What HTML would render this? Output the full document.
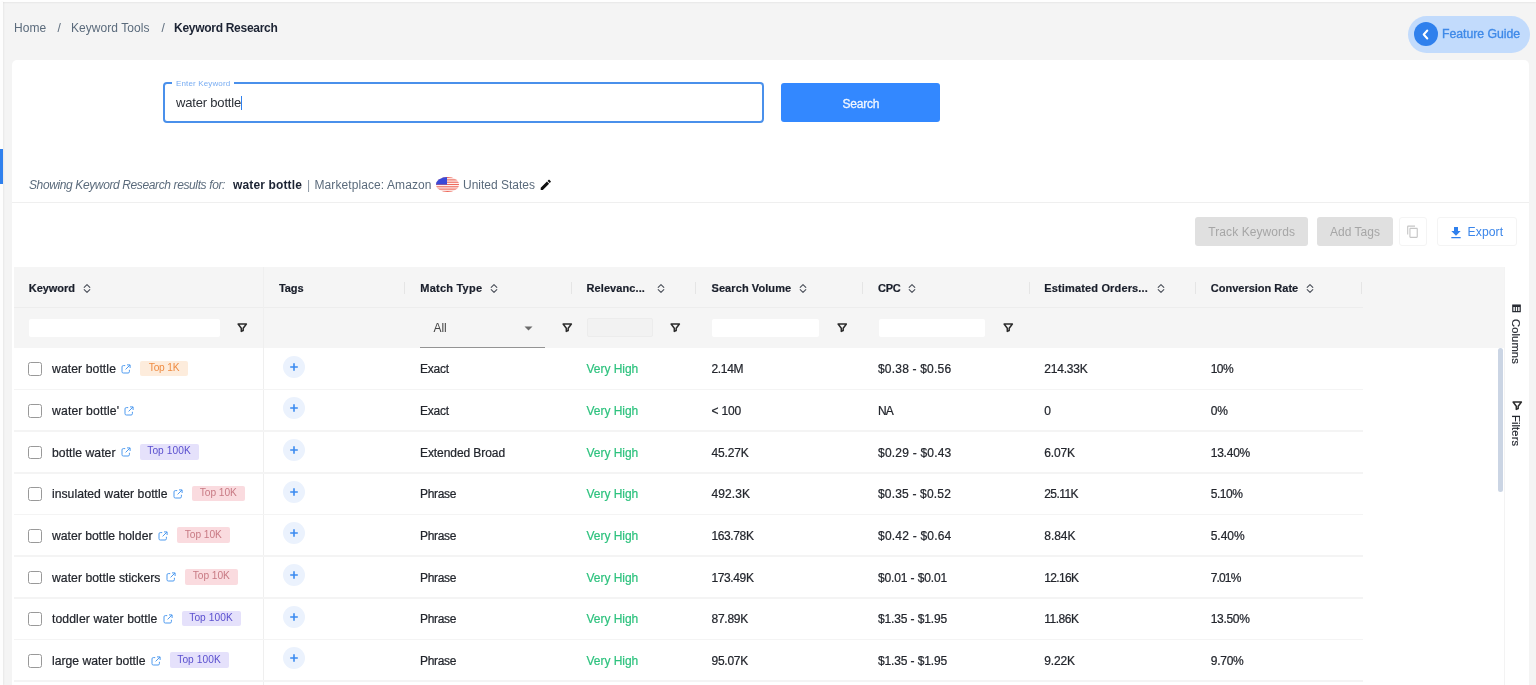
<!DOCTYPE html>
<html lang="en">
<head>
<meta charset="utf-8">
<title>Keyword Research</title>
<style>
*{box-sizing:border-box;margin:0;padding:0}
html,body{width:1536px;height:685px;overflow:hidden}
body{background:#f4f4f4;font-family:"Liberation Sans",sans-serif;color:#222;position:relative}
.abs{position:absolute}
.tx{white-space:nowrap}
#topline{left:0;top:0;width:1536px;height:2px;background:#fefefe;box-shadow:0 1px 2px rgba(0,0,0,0.06)}
#leftstrip{left:0;top:2px;width:3px;height:683px;background:#fdfdfd;box-shadow:1px 0 2px rgba(0,0,0,0.05)}
#bluebar{left:0;top:149px;width:3px;height:35px;background:#2f80ed}
#guide{left:1408px;top:16px;width:122px;height:37px;border-radius:19px;background:#c2dbfc}
#guide .c{left:6px;top:6px;width:24px;height:24px;border-radius:50%;background:#2f80ed}
#card{left:12px;top:60px;width:1517.300px;height:640px;background:#fff;border-radius:5px 5px 0 0}
#inp{left:162.7px;top:82px;width:601.3px;height:40.5px;border:2px solid #4a90eb;border-radius:4px;background:#fff}
#inplabelbg{left:172px;top:81px;height:4px;width:61.6px;background:#fff}
#caret{left:241.3px;top:95.5px;width:1px;height:14px;background:#2f80ed}
#search{left:781px;top:82.6px;width:159.3px;height:39.5px;border-radius:3px;background:#3388ff}
#hr1{left:12px;top:202px;width:1517.300px;height:1px;background:#efefef}
.btn{top:216.500px;height:29px;border-radius:3px}
.dis{background:#e0e0e0}
.out{background:#fff;border:1px solid #f4f4f4}
#thead{left:14px;top:267px;width:1489.600px;height:80.500px;background:#f5f5f5}
#hline{left:14px;top:307px;width:1349px;height:1px;background:#ededed}
#kwborder{left:262.500px;top:267px;width:1px;height:420px;background:#efefef}
.sep{top:282px;width:1px;height:12px;background:#e5e5e5}
.fin{top:319px;height:18px;background:#fff;border-radius:2px}
.findis{top:318px;height:19px;background:#f2f2f2;border:1px solid #ececec;border-radius:2px}
.cb{width:13.8px;height:13.8px;border:1.5px solid #999;border-radius:2.5px;background:#fff}
.tag{height:15.6px;border-radius:2px}
.plus{width:22px;height:22px;border-radius:50%;background:#ebf2fd}
#side{left:1503.600px;top:267px;width:25.700px;height:420px;background:#fff;border-left:1px solid #f3f3f3}
#sbar{left:1497.900px;top:348px;width:5px;height:144px;border-radius:3px;background:#cbd5e4}
.rot{will-change:transform;transform-origin:0 0;transform:rotate(90deg);white-space:nowrap;font-size:11.200px;letter-spacing:0.1px;line-height:14px;color:#1f232b;-webkit-text-stroke:0.2px #1f232b}
#selul{left:420px;top:347px;width:125px;height:1px;background:#949494}
</style>
</head>
<body>
<div class="abs" id="topline"></div>
<div class="abs" id="leftstrip"></div>
<div class="abs" id="bluebar"></div>

<div class="abs" id="guide">
  <div class="abs c"><svg width="24" height="24" viewBox="0 0 24 24"><path d="M13.3 8.500 L9.700 12.500 L13.3 16.500" fill="none" stroke="#fff" stroke-width="2" stroke-linecap="round" stroke-linejoin="round"/></svg></div>
</div>

<div class="abs" id="card"></div>
<div class="abs" id="inp"></div>
<div class="abs" id="inplabelbg"></div>
<div class="abs" id="caret"></div>
<div class="abs" id="search"></div>

<!-- flag -->
<svg class="abs" style="left:436px;top:177px" width="23" height="15" viewBox="0 0 23 15">
  <defs><clipPath id="fc"><ellipse cx="11.5" cy="7.5" rx="11.5" ry="7.5"/></clipPath></defs>
  <g clip-path="url(#fc)">
    <rect width="23" height="15" fill="#fff"/>
    <g fill="#ee6a5c">
      <rect y="0" width="23" height="1.2"/><rect y="2.3" width="23" height="1.2"/><rect y="4.6" width="23" height="1.2"/>
      <rect y="6.9" width="23" height="1.2"/><rect y="9.2" width="23" height="1.2"/><rect y="11.5" width="23" height="1.2"/><rect y="13.8" width="23" height="1.2"/>
    </g>
    <rect width="11" height="7.6" fill="#3a49d8"/>
  </g>
</svg>
<!-- pencil -->
<svg class="abs" style="left:539.400px;top:178px" width="13.600" height="13.600" viewBox="0 0 24 24"><path d="M3 17.25V21h3.75L17.81 9.94l-3.75-3.75L3 17.25zM20.71 7.04a1 1 0 0 0 0-1.41l-2.34-2.34a1 1 0 0 0-1.41 0l-1.83 1.83 3.75 3.75 1.83-1.83z" fill="#111"/></svg>

<div class="abs" id="hr1"></div>

<div class="abs btn dis" style="left:1195px;width:113px"></div>
<div class="abs btn dis" style="left:1317px;width:76px"></div>
<div class="abs btn out" style="left:1399.200px;width:27.600px"></div>
<div class="abs btn out" style="left:1437px;width:80px"></div>
<!-- copy icon -->
<svg class="abs" style="left:1406px;top:224.500px" width="13.500" height="13.500" viewBox="0 0 24 24"><path d="M16 1H4c-1.1 0-2 .9-2 2v14h2V3h12V1zm3 4H8c-1.1 0-2 .9-2 2v14c0 1.1.9 2 2 2h11c1.100 0 2-.9 2-2V7c0-1.100-.9-2-2-2zm0 16H8V7h11v14z" fill="#c6c6c6"/></svg>
<!-- download icon -->
<svg class="abs" style="left:1448px;top:224.800px" width="16" height="16" viewBox="0 0 24 24"><path d="M19 9h-4V3H9v6H5l7 7 7-7zM5 18v2h14v-2H5z" fill="#2f80ed"/></svg>

<!-- table -->
<div class="abs" id="thead"></div>
<div class="abs" id="hline"></div>
<div class="abs" id="side"></div>
<div class="abs" id="kwborder"></div>
<div class="abs sep" style="left:404px"></div>
<div class="abs sep" style="left:571px"></div>
<div class="abs sep" style="left:695px"></div>
<div class="abs sep" style="left:862px"></div>
<div class="abs sep" style="left:1029px"></div>
<div class="abs sep" style="left:1195px"></div>
<div class="abs sep" style="left:1361px"></div>

<div class="abs fin" style="left:29px;width:191px"></div>
<div class="abs findis" style="left:587px;width:66px"></div>
<div class="abs fin" style="left:711.5px;width:107px"></div>
<div class="abs fin" style="left:878.5px;width:106.5px"></div>
<div class="abs" id="selul"></div>
<svg class="abs" style="left:523.5px;top:325.5px" width="9" height="5" viewBox="0 0 9 5"><path d="M0.5 0.5h8L4.500 4.500z" fill="#6a6a6a"/></svg>

<svg class="abs" style="left:83.00px;top:282.800px" width="8" height="11" viewBox="0 0 8 11"><path d="M1.2 4.400L4 1.600l2.800 2.800M1.2 6.600L4 9.400l2.800-2.800" fill="none" stroke="#4a4f59" stroke-width="1.1" stroke-linejoin="round" stroke-linecap="round"/></svg><svg class="abs" style="left:490.25px;top:282.800px" width="8" height="11" viewBox="0 0 8 11"><path d="M1.2 4.400L4 1.600l2.800 2.800M1.2 6.600L4 9.400l2.800-2.800" fill="none" stroke="#4a4f59" stroke-width="1.1" stroke-linejoin="round" stroke-linecap="round"/></svg><svg class="abs" style="left:656.75px;top:282.800px" width="8" height="11" viewBox="0 0 8 11"><path d="M1.2 4.400L4 1.600l2.800 2.800M1.2 6.600L4 9.400l2.800-2.800" fill="none" stroke="#4a4f59" stroke-width="1.1" stroke-linejoin="round" stroke-linecap="round"/></svg><svg class="abs" style="left:799.00px;top:282.800px" width="8" height="11" viewBox="0 0 8 11"><path d="M1.2 4.400L4 1.600l2.800 2.800M1.2 6.600L4 9.400l2.800-2.800" fill="none" stroke="#4a4f59" stroke-width="1.1" stroke-linejoin="round" stroke-linecap="round"/></svg><svg class="abs" style="left:908.40px;top:282.800px" width="8" height="11" viewBox="0 0 8 11"><path d="M1.2 4.400L4 1.600l2.800 2.800M1.2 6.600L4 9.400l2.800-2.800" fill="none" stroke="#4a4f59" stroke-width="1.1" stroke-linejoin="round" stroke-linecap="round"/></svg><svg class="abs" style="left:1157.00px;top:282.800px" width="8" height="11" viewBox="0 0 8 11"><path d="M1.2 4.400L4 1.600l2.800 2.800M1.2 6.600L4 9.400l2.800-2.800" fill="none" stroke="#4a4f59" stroke-width="1.1" stroke-linejoin="round" stroke-linecap="round"/></svg><svg class="abs" style="left:1306.00px;top:282.800px" width="8" height="11" viewBox="0 0 8 11"><path d="M1.2 4.400L4 1.600l2.800 2.800M1.2 6.600L4 9.400l2.800-2.800" fill="none" stroke="#4a4f59" stroke-width="1.1" stroke-linejoin="round" stroke-linecap="round"/></svg>
<svg class="abs" style="left:237px;top:323px" width="10.5" height="10" viewBox="0 0 10.5 10"><path d="M1.100 1h8.300L6.200 5.200v2.300L4.300 8.400V5.200z" fill="none" stroke="#2b2b2b" stroke-width="1.5" stroke-linejoin="round"/></svg><svg class="abs" style="left:562px;top:323px" width="10.5" height="10" viewBox="0 0 10.5 10"><path d="M1.100 1h8.300L6.200 5.200v2.300L4.300 8.400V5.200z" fill="none" stroke="#2b2b2b" stroke-width="1.5" stroke-linejoin="round"/></svg><svg class="abs" style="left:670px;top:323px" width="10.5" height="10" viewBox="0 0 10.5 10"><path d="M1.100 1h8.300L6.200 5.200v2.300L4.300 8.400V5.200z" fill="none" stroke="#2b2b2b" stroke-width="1.5" stroke-linejoin="round"/></svg><svg class="abs" style="left:836.75px;top:323px" width="10.5" height="10" viewBox="0 0 10.5 10"><path d="M1.100 1h8.300L6.200 5.200v2.300L4.300 8.400V5.200z" fill="none" stroke="#2b2b2b" stroke-width="1.5" stroke-linejoin="round"/></svg><svg class="abs" style="left:1003px;top:323px" width="10.5" height="10" viewBox="0 0 10.5 10"><path d="M1.100 1h8.300L6.200 5.200v2.300L4.300 8.400V5.200z" fill="none" stroke="#2b2b2b" stroke-width="1.5" stroke-linejoin="round"/></svg>

<div class="abs" id="sbar"></div>
<!-- side panel -->
<svg class="abs" style="left:1512.400px;top:304.400px" width="9" height="9" viewBox="0 0 10 10"><rect x="0.9" y="1.200" width="8.200" height="7.300" fill="none" stroke="#1f232b" stroke-width="1.3"/><path d="M0.9 2.300h8.200" stroke="#1f232b" stroke-width="2" fill="none"/><path d="M3.700 3v5.500M6.300 3v5.500" stroke="#1f232b" stroke-width="1.1" fill="none"/></svg>
<div class="abs rot" style="left:1523.300px;top:319px">Columns</div>
<svg class="abs" style="left:1512px;top:400.600px" width="10.5" height="10" viewBox="0 0 10.5 10"><path d="M1.100 1h8.300L6.200 5.200v2.300L4.300 8.400V5.200z" fill="none" stroke="#2b2b2b" stroke-width="1.5" stroke-linejoin="round"/></svg>
<div class="abs rot" style="left:1523.300px;top:414.500px">Filters</div>

<div class="abs cb" style="left:28px;top:362.20px"></div>
<svg class="abs" style="left:121.00px;top:364.00px" width="10" height="10" viewBox="0 0 10 10"><path d="M4.2 1.6H2.3A1.3 1.3 0 0 0 1 2.9v4.8A1.3 1.3 0 0 0 2.3 9h4.8a1.3 1.3 0 0 0 1.3-1.3V5.8" fill="none" stroke="#4f9bf0" stroke-width="1"/><path d="M6 0.9h3.1V4M9 1L4.6 5.4" fill="none" stroke="#4f9bf0" stroke-width="1"/></svg>
<div class="abs tag" style="left:140.00px;top:360.70px;width:48px;background:#fdecdc"></div>
<div class="abs plus" style="left:282.75px;top:355.80px"><svg width="22" height="22" viewBox="0 0 22 22"><path d="M11 7.2v7.6M7.2 11h7.6" stroke="#3b8af0" stroke-width="1.6" fill="none"/></svg></div>
<div class="abs" style="left:14px;top:388.71px;width:1349px;height:1.5px;background:#f4f4f4"></div>
<div class="abs cb" style="left:28px;top:403.86px"></div>
<svg class="abs" style="left:124.30px;top:405.66px" width="10" height="10" viewBox="0 0 10 10"><path d="M4.2 1.6H2.3A1.3 1.3 0 0 0 1 2.9v4.8A1.3 1.3 0 0 0 2.3 9h4.8a1.3 1.3 0 0 0 1.3-1.3V5.8" fill="none" stroke="#4f9bf0" stroke-width="1"/><path d="M6 0.9h3.1V4M9 1L4.6 5.4" fill="none" stroke="#4f9bf0" stroke-width="1"/></svg>
<div class="abs plus" style="left:282.75px;top:397.46px"><svg width="22" height="22" viewBox="0 0 22 22"><path d="M11 7.2v7.6M7.2 11h7.6" stroke="#3b8af0" stroke-width="1.6" fill="none"/></svg></div>
<div class="abs" style="left:14px;top:430.37px;width:1349px;height:1.5px;background:#f4f4f4"></div>
<div class="abs cb" style="left:28px;top:445.52px"></div>
<svg class="abs" style="left:120.50px;top:447.32px" width="10" height="10" viewBox="0 0 10 10"><path d="M4.2 1.6H2.3A1.3 1.3 0 0 0 1 2.9v4.8A1.3 1.3 0 0 0 2.3 9h4.8a1.3 1.3 0 0 0 1.3-1.3V5.8" fill="none" stroke="#4f9bf0" stroke-width="1"/><path d="M6 0.9h3.1V4M9 1L4.6 5.4" fill="none" stroke="#4f9bf0" stroke-width="1"/></svg>
<div class="abs tag" style="left:139.50px;top:444.02px;width:59px;background:#e5e1fb"></div>
<div class="abs plus" style="left:282.75px;top:439.12px"><svg width="22" height="22" viewBox="0 0 22 22"><path d="M11 7.2v7.6M7.2 11h7.6" stroke="#3b8af0" stroke-width="1.6" fill="none"/></svg></div>
<div class="abs" style="left:14px;top:472.03px;width:1349px;height:1.5px;background:#f4f4f4"></div>
<div class="abs cb" style="left:28px;top:487.18px"></div>
<svg class="abs" style="left:172.50px;top:488.98px" width="10" height="10" viewBox="0 0 10 10"><path d="M4.2 1.6H2.3A1.3 1.3 0 0 0 1 2.9v4.8A1.3 1.3 0 0 0 2.3 9h4.8a1.3 1.3 0 0 0 1.3-1.3V5.8" fill="none" stroke="#4f9bf0" stroke-width="1"/><path d="M6 0.9h3.1V4M9 1L4.6 5.4" fill="none" stroke="#4f9bf0" stroke-width="1"/></svg>
<div class="abs tag" style="left:191.50px;top:485.68px;width:53.5px;background:#fadbdf"></div>
<div class="abs plus" style="left:282.75px;top:480.78px"><svg width="22" height="22" viewBox="0 0 22 22"><path d="M11 7.2v7.6M7.2 11h7.6" stroke="#3b8af0" stroke-width="1.6" fill="none"/></svg></div>
<div class="abs" style="left:14px;top:513.69px;width:1349px;height:1.5px;background:#f4f4f4"></div>
<div class="abs cb" style="left:28px;top:528.84px"></div>
<svg class="abs" style="left:157.50px;top:530.64px" width="10" height="10" viewBox="0 0 10 10"><path d="M4.2 1.6H2.3A1.3 1.3 0 0 0 1 2.9v4.8A1.3 1.3 0 0 0 2.3 9h4.8a1.3 1.3 0 0 0 1.3-1.3V5.8" fill="none" stroke="#4f9bf0" stroke-width="1"/><path d="M6 0.9h3.1V4M9 1L4.6 5.4" fill="none" stroke="#4f9bf0" stroke-width="1"/></svg>
<div class="abs tag" style="left:176.50px;top:527.34px;width:53.5px;background:#fadbdf"></div>
<div class="abs plus" style="left:282.75px;top:522.44px"><svg width="22" height="22" viewBox="0 0 22 22"><path d="M11 7.2v7.6M7.2 11h7.6" stroke="#3b8af0" stroke-width="1.6" fill="none"/></svg></div>
<div class="abs" style="left:14px;top:555.35px;width:1349px;height:1.5px;background:#f4f4f4"></div>
<div class="abs cb" style="left:28px;top:570.50px"></div>
<svg class="abs" style="left:165.50px;top:572.30px" width="10" height="10" viewBox="0 0 10 10"><path d="M4.2 1.6H2.3A1.3 1.3 0 0 0 1 2.9v4.8A1.3 1.3 0 0 0 2.3 9h4.8a1.3 1.3 0 0 0 1.3-1.3V5.8" fill="none" stroke="#4f9bf0" stroke-width="1"/><path d="M6 0.9h3.1V4M9 1L4.6 5.4" fill="none" stroke="#4f9bf0" stroke-width="1"/></svg>
<div class="abs tag" style="left:184.50px;top:569.00px;width:53.5px;background:#fadbdf"></div>
<div class="abs plus" style="left:282.75px;top:564.10px"><svg width="22" height="22" viewBox="0 0 22 22"><path d="M11 7.2v7.6M7.2 11h7.6" stroke="#3b8af0" stroke-width="1.6" fill="none"/></svg></div>
<div class="abs" style="left:14px;top:597.01px;width:1349px;height:1.5px;background:#f4f4f4"></div>
<div class="abs cb" style="left:28px;top:612.16px"></div>
<svg class="abs" style="left:162.50px;top:613.96px" width="10" height="10" viewBox="0 0 10 10"><path d="M4.2 1.6H2.3A1.3 1.3 0 0 0 1 2.9v4.8A1.3 1.3 0 0 0 2.3 9h4.8a1.3 1.3 0 0 0 1.3-1.3V5.8" fill="none" stroke="#4f9bf0" stroke-width="1"/><path d="M6 0.9h3.1V4M9 1L4.6 5.4" fill="none" stroke="#4f9bf0" stroke-width="1"/></svg>
<div class="abs tag" style="left:181.50px;top:610.66px;width:59px;background:#e5e1fb"></div>
<div class="abs plus" style="left:282.75px;top:605.76px"><svg width="22" height="22" viewBox="0 0 22 22"><path d="M11 7.2v7.6M7.2 11h7.6" stroke="#3b8af0" stroke-width="1.6" fill="none"/></svg></div>
<div class="abs" style="left:14px;top:638.67px;width:1349px;height:1.5px;background:#f4f4f4"></div>
<div class="abs cb" style="left:28px;top:653.82px"></div>
<svg class="abs" style="left:150.50px;top:655.62px" width="10" height="10" viewBox="0 0 10 10"><path d="M4.2 1.6H2.3A1.3 1.3 0 0 0 1 2.9v4.8A1.3 1.3 0 0 0 2.3 9h4.8a1.3 1.3 0 0 0 1.3-1.3V5.8" fill="none" stroke="#4f9bf0" stroke-width="1"/><path d="M6 0.9h3.1V4M9 1L4.6 5.4" fill="none" stroke="#4f9bf0" stroke-width="1"/></svg>
<div class="abs tag" style="left:169.50px;top:652.32px;width:59px;background:#e5e1fb"></div>
<div class="abs plus" style="left:282.75px;top:647.42px"><svg width="22" height="22" viewBox="0 0 22 22"><path d="M11 7.2v7.6M7.2 11h7.6" stroke="#3b8af0" stroke-width="1.6" fill="none"/></svg></div>
<div class="abs" style="left:14px;top:680.33px;width:1349px;height:1.5px;background:#f4f4f4"></div>
<div class="abs" style="left:0;top:0;width:1536px;height:685px;will-change:transform">
<div class="abs tx" style="left:14.00px;top:21.26px;line-height:15px;font-size:12px;font-weight:400;font-style:normal;color:#5b6b7c;letter-spacing:0.059px;">Home</div>
<div class="abs tx" style="left:57.50px;top:21.26px;line-height:15px;font-size:12px;font-weight:400;font-style:normal;color:#5b6b7c;letter-spacing:0.156px;">/</div>
<div class="abs tx" style="left:71.00px;top:21.26px;line-height:15px;font-size:12px;font-weight:400;font-style:normal;color:#5b6b7c;letter-spacing:0.052px;">Keyword Tools</div>
<div class="abs tx" style="left:161.50px;top:21.26px;line-height:15px;font-size:12px;font-weight:400;font-style:normal;color:#5b6b7c;letter-spacing:0.156px;">/</div>
<div class="abs tx" style="left:174.00px;top:21.26px;line-height:15px;font-size:12px;font-weight:700;font-style:normal;color:#1c2333;letter-spacing:-0.284px;">Keyword Research</div>
<div class="abs tx" style="left:1442.00px;top:27.23px;line-height:15px;font-size:12.3px;font-weight:400;font-style:normal;color:#3f8ae8;letter-spacing:-0.047px;-webkit-text-stroke:0.35px #3f8ae8;">Feature Guide</div>
<div class="abs tx" style="left:176.00px;top:78.80px;line-height:10px;font-size:8px;font-weight:400;font-style:normal;color:#78acf2;letter-spacing:0.141px;">Enter Keyword</div>
<div class="abs tx" style="left:176.00px;top:94.77px;line-height:16px;font-size:13px;font-weight:400;font-style:normal;color:#2b2f36;letter-spacing:-0.184px;">water bottle</div>
<div class="abs tx" style="left:842.40px;top:96.76px;line-height:15px;font-size:12px;font-weight:400;font-style:normal;color:#f2f7ff;letter-spacing:-0.205px;-webkit-text-stroke:0.3px #f2f7ff;">Search</div>
<div class="abs tx" style="left:29.00px;top:178.36px;line-height:15px;font-size:12px;font-weight:400;font-style:italic;color:#5b6b7c;letter-spacing:-0.381px;">Showing Keyword Research results for:</div>
<div class="abs tx" style="left:233.00px;top:178.36px;line-height:15px;font-size:12px;font-weight:700;font-style:normal;color:#1c2333;letter-spacing:0.138px;">water bottle</div>
<div class="abs tx" style="left:307.00px;top:177.86px;line-height:15px;font-size:12px;font-weight:400;font-style:normal;color:#8a96a3;letter-spacing:-1.125px;">|</div>
<div class="abs tx" style="left:314.50px;top:178.36px;line-height:15px;font-size:12px;font-weight:400;font-style:normal;color:#5b6b7c;letter-spacing:0.085px;">Marketplace: Amazon</div>
<div class="abs tx" style="left:463.00px;top:178.36px;line-height:15px;font-size:12px;font-weight:400;font-style:normal;color:#5b6b7c;letter-spacing:-0.004px;">United States</div>
<div class="abs tx" style="left:1208.25px;top:225.16px;line-height:15px;font-size:12px;font-weight:400;font-style:normal;color:#a6a6a6;letter-spacing:0.084px;">Track Keywords</div>
<div class="abs tx" style="left:1330.00px;top:225.16px;line-height:15px;font-size:12px;font-weight:400;font-style:normal;color:#a6a6a6;letter-spacing:0.021px;">Add Tags</div>
<div class="abs tx" style="left:1467.50px;top:225.14px;line-height:15px;font-size:12.2px;font-weight:400;font-style:normal;color:#3b86ea;letter-spacing:0.086px;">Export</div>
<div class="abs tx" style="left:28.75px;top:280.94px;line-height:14px;font-size:11px;font-weight:700;font-style:normal;color:#1a1f2b;letter-spacing:-0.031px;-webkit-text-stroke:0.2px #1a1f2b;">Keyword</div>
<div class="abs tx" style="left:279.00px;top:280.94px;line-height:14px;font-size:11px;font-weight:700;font-style:normal;color:#1a1f2b;letter-spacing:-0.090px;-webkit-text-stroke:0.2px #1a1f2b;">Tags</div>
<div class="abs tx" style="left:420.25px;top:280.94px;line-height:14px;font-size:11px;font-weight:700;font-style:normal;color:#1a1f2b;letter-spacing:0.230px;-webkit-text-stroke:0.2px #1a1f2b;">Match Type</div>
<div class="abs tx" style="left:586.50px;top:280.94px;line-height:14px;font-size:11px;font-weight:700;font-style:normal;color:#1a1f2b;letter-spacing:0.092px;-webkit-text-stroke:0.2px #1a1f2b;">Relevanc...</div>
<div class="abs tx" style="left:711.50px;top:280.94px;line-height:14px;font-size:11px;font-weight:700;font-style:normal;color:#1a1f2b;letter-spacing:0.083px;-webkit-text-stroke:0.2px #1a1f2b;">Search Volume</div>
<div class="abs tx" style="left:878.00px;top:280.94px;line-height:14px;font-size:11px;font-weight:700;font-style:normal;color:#1a1f2b;letter-spacing:-0.245px;-webkit-text-stroke:0.2px #1a1f2b;">CPC</div>
<div class="abs tx" style="left:1044.25px;top:280.94px;line-height:14px;font-size:11px;font-weight:700;font-style:normal;color:#1a1f2b;letter-spacing:0.151px;-webkit-text-stroke:0.2px #1a1f2b;">Estimated Orders...</div>
<div class="abs tx" style="left:1210.75px;top:280.94px;line-height:14px;font-size:11px;font-weight:700;font-style:normal;color:#1a1f2b;letter-spacing:0.005px;-webkit-text-stroke:0.2px #1a1f2b;">Conversion Rate</div>
<div class="abs tx" style="left:433.50px;top:320.86px;line-height:15px;font-size:12px;font-weight:400;font-style:normal;color:#444;letter-spacing:-0.115px;">All</div>
<div class="abs tx" style="left:52.00px;top:362.24px;line-height:15px;font-size:12.2px;font-weight:400;font-style:normal;color:#23262d;letter-spacing:0.082px;-webkit-text-stroke:0.22px #23262d;">water bottle</div>
<div class="abs tx" style="left:420.00px;top:362.26px;line-height:15px;font-size:12px;font-weight:400;font-style:normal;color:#23262d;letter-spacing:-0.203px;-webkit-text-stroke:0.22px #23262d;">Exact</div>
<div class="abs tx" style="left:586.50px;top:362.26px;line-height:15px;font-size:12px;font-weight:400;font-style:normal;color:#2ec27e;letter-spacing:-0.031px;-webkit-text-stroke:0.2px #2ec27e;">Very High</div>
<div class="abs tx" style="left:711.50px;top:362.26px;line-height:15px;font-size:12px;font-weight:400;font-style:normal;color:#23262d;letter-spacing:-0.322px;-webkit-text-stroke:0.22px #23262d;">2.14M</div>
<div class="abs tx" style="left:878.00px;top:362.26px;line-height:15px;font-size:12px;font-weight:400;font-style:normal;color:#23262d;letter-spacing:0.194px;-webkit-text-stroke:0.22px #23262d;">$0.38 - $0.56</div>
<div class="abs tx" style="left:1044.25px;top:362.26px;line-height:15px;font-size:12px;font-weight:400;font-style:normal;color:#23262d;letter-spacing:-0.210px;-webkit-text-stroke:0.22px #23262d;">214.33K</div>
<div class="abs tx" style="left:1210.75px;top:362.26px;line-height:15px;font-size:12px;font-weight:400;font-style:normal;color:#23262d;letter-spacing:-0.594px;-webkit-text-stroke:0.22px #23262d;">10%</div>
<div class="abs tx" style="left:148.75px;top:361.01px;line-height:13px;font-size:10.2px;font-weight:400;font-style:normal;color:#ef8c43;letter-spacing:-0.203px;">Top 1K</div>
<div class="abs tx" style="left:52.00px;top:403.90px;line-height:15px;font-size:12.2px;font-weight:400;font-style:normal;color:#23262d;letter-spacing:0.150px;-webkit-text-stroke:0.22px #23262d;">water bottle'</div>
<div class="abs tx" style="left:420.00px;top:403.92px;line-height:15px;font-size:12px;font-weight:400;font-style:normal;color:#23262d;letter-spacing:-0.203px;-webkit-text-stroke:0.22px #23262d;">Exact</div>
<div class="abs tx" style="left:586.50px;top:403.92px;line-height:15px;font-size:12px;font-weight:400;font-style:normal;color:#2ec27e;letter-spacing:-0.031px;-webkit-text-stroke:0.2px #2ec27e;">Very High</div>
<div class="abs tx" style="left:711.50px;top:403.92px;line-height:15px;font-size:12px;font-weight:400;font-style:normal;color:#23262d;letter-spacing:-0.175px;-webkit-text-stroke:0.22px #23262d;">&lt; 100</div>
<div class="abs tx" style="left:878.00px;top:403.92px;line-height:15px;font-size:12px;font-weight:400;font-style:normal;color:#23262d;letter-spacing:-0.836px;-webkit-text-stroke:0.22px #23262d;">NA</div>
<div class="abs tx" style="left:1044.25px;top:403.92px;line-height:15px;font-size:12px;font-weight:400;font-style:normal;color:#23262d;letter-spacing:0.062px;-webkit-text-stroke:0.22px #23262d;">0</div>
<div class="abs tx" style="left:1210.75px;top:403.92px;line-height:15px;font-size:12px;font-weight:400;font-style:normal;color:#23262d;letter-spacing:-0.297px;-webkit-text-stroke:0.22px #23262d;">0%</div>
<div class="abs tx" style="left:52.00px;top:445.56px;line-height:15px;font-size:12.2px;font-weight:400;font-style:normal;color:#23262d;letter-spacing:0.040px;-webkit-text-stroke:0.22px #23262d;">bottle water</div>
<div class="abs tx" style="left:420.00px;top:445.58px;line-height:15px;font-size:12px;font-weight:400;font-style:normal;color:#23262d;letter-spacing:-0.076px;-webkit-text-stroke:0.22px #23262d;">Extended Broad</div>
<div class="abs tx" style="left:586.50px;top:445.58px;line-height:15px;font-size:12px;font-weight:400;font-style:normal;color:#2ec27e;letter-spacing:-0.031px;-webkit-text-stroke:0.2px #2ec27e;">Very High</div>
<div class="abs tx" style="left:711.50px;top:445.58px;line-height:15px;font-size:12px;font-weight:400;font-style:normal;color:#23262d;letter-spacing:-0.174px;-webkit-text-stroke:0.22px #23262d;">45.27K</div>
<div class="abs tx" style="left:878.00px;top:445.58px;line-height:15px;font-size:12px;font-weight:400;font-style:normal;color:#23262d;letter-spacing:0.213px;-webkit-text-stroke:0.22px #23262d;">$0.29 - $0.43</div>
<div class="abs tx" style="left:1044.25px;top:445.58px;line-height:15px;font-size:12px;font-weight:400;font-style:normal;color:#23262d;letter-spacing:-0.122px;-webkit-text-stroke:0.22px #23262d;">6.07K</div>
<div class="abs tx" style="left:1210.75px;top:445.58px;line-height:15px;font-size:12px;font-weight:400;font-style:normal;color:#23262d;letter-spacing:-0.242px;-webkit-text-stroke:0.22px #23262d;">13.40%</div>
<div class="abs tx" style="left:147.25px;top:444.33px;line-height:13px;font-size:10.2px;font-weight:400;font-style:normal;color:#5b50cf;letter-spacing:0.057px;">Top 100K</div>
<div class="abs tx" style="left:52.00px;top:487.22px;line-height:15px;font-size:12.2px;font-weight:400;font-style:normal;color:#23262d;letter-spacing:0.014px;-webkit-text-stroke:0.22px #23262d;">insulated water bottle</div>
<div class="abs tx" style="left:420.00px;top:487.24px;line-height:15px;font-size:12px;font-weight:400;font-style:normal;color:#23262d;letter-spacing:-0.339px;-webkit-text-stroke:0.22px #23262d;">Phrase</div>
<div class="abs tx" style="left:586.50px;top:487.24px;line-height:15px;font-size:12px;font-weight:400;font-style:normal;color:#2ec27e;letter-spacing:-0.031px;-webkit-text-stroke:0.2px #2ec27e;">Very High</div>
<div class="abs tx" style="left:711.50px;top:487.24px;line-height:15px;font-size:12px;font-weight:400;font-style:normal;color:#23262d;letter-spacing:0.076px;-webkit-text-stroke:0.22px #23262d;">492.3K</div>
<div class="abs tx" style="left:878.00px;top:487.24px;line-height:15px;font-size:12px;font-weight:400;font-style:normal;color:#23262d;letter-spacing:0.174px;-webkit-text-stroke:0.22px #23262d;">$0.35 - $0.52</div>
<div class="abs tx" style="left:1044.25px;top:487.24px;line-height:15px;font-size:12px;font-weight:400;font-style:normal;color:#23262d;letter-spacing:-0.568px;-webkit-text-stroke:0.22px #23262d;">25.11K</div>
<div class="abs tx" style="left:1210.75px;top:487.24px;line-height:15px;font-size:12px;font-weight:400;font-style:normal;color:#23262d;letter-spacing:-0.456px;-webkit-text-stroke:0.22px #23262d;">5.10%</div>
<div class="abs tx" style="left:199.75px;top:485.99px;line-height:13px;font-size:10.2px;font-weight:400;font-style:normal;color:#c87a84;letter-spacing:-0.056px;">Top 10K</div>
<div class="abs tx" style="left:52.00px;top:528.88px;line-height:15px;font-size:12.2px;font-weight:400;font-style:normal;color:#23262d;letter-spacing:0.012px;-webkit-text-stroke:0.22px #23262d;">water bottle holder</div>
<div class="abs tx" style="left:420.00px;top:528.90px;line-height:15px;font-size:12px;font-weight:400;font-style:normal;color:#23262d;letter-spacing:-0.339px;-webkit-text-stroke:0.22px #23262d;">Phrase</div>
<div class="abs tx" style="left:586.50px;top:528.90px;line-height:15px;font-size:12px;font-weight:400;font-style:normal;color:#2ec27e;letter-spacing:-0.031px;-webkit-text-stroke:0.2px #2ec27e;">Very High</div>
<div class="abs tx" style="left:711.50px;top:528.90px;line-height:15px;font-size:12px;font-weight:400;font-style:normal;color:#23262d;letter-spacing:-0.388px;-webkit-text-stroke:0.22px #23262d;">163.78K</div>
<div class="abs tx" style="left:878.00px;top:528.90px;line-height:15px;font-size:12px;font-weight:400;font-style:normal;color:#23262d;letter-spacing:0.213px;-webkit-text-stroke:0.22px #23262d;">$0.42 - $0.64</div>
<div class="abs tx" style="left:1044.25px;top:528.90px;line-height:15px;font-size:12px;font-weight:400;font-style:normal;color:#23262d;letter-spacing:-0.022px;-webkit-text-stroke:0.22px #23262d;">8.84K</div>
<div class="abs tx" style="left:1210.75px;top:528.90px;line-height:15px;font-size:12px;font-weight:400;font-style:normal;color:#23262d;letter-spacing:-0.056px;-webkit-text-stroke:0.22px #23262d;">5.40%</div>
<div class="abs tx" style="left:184.75px;top:527.65px;line-height:13px;font-size:10.2px;font-weight:400;font-style:normal;color:#c87a84;letter-spacing:-0.056px;">Top 10K</div>
<div class="abs tx" style="left:52.00px;top:570.54px;line-height:15px;font-size:12.2px;font-weight:400;font-style:normal;color:#23262d;letter-spacing:0.038px;-webkit-text-stroke:0.22px #23262d;">water bottle stickers</div>
<div class="abs tx" style="left:420.00px;top:570.56px;line-height:15px;font-size:12px;font-weight:400;font-style:normal;color:#23262d;letter-spacing:-0.339px;-webkit-text-stroke:0.22px #23262d;">Phrase</div>
<div class="abs tx" style="left:586.50px;top:570.56px;line-height:15px;font-size:12px;font-weight:400;font-style:normal;color:#2ec27e;letter-spacing:-0.031px;-webkit-text-stroke:0.2px #2ec27e;">Very High</div>
<div class="abs tx" style="left:711.50px;top:570.56px;line-height:15px;font-size:12px;font-weight:400;font-style:normal;color:#23262d;letter-spacing:-0.388px;-webkit-text-stroke:0.22px #23262d;">173.49K</div>
<div class="abs tx" style="left:878.00px;top:570.56px;line-height:15px;font-size:12px;font-weight:400;font-style:normal;color:#23262d;letter-spacing:-0.133px;-webkit-text-stroke:0.22px #23262d;">$0.01 - $0.01</div>
<div class="abs tx" style="left:1044.25px;top:570.56px;line-height:15px;font-size:12px;font-weight:400;font-style:normal;color:#23262d;letter-spacing:-0.633px;-webkit-text-stroke:0.22px #23262d;">12.16K</div>
<div class="abs tx" style="left:1210.75px;top:570.56px;line-height:15px;font-size:12px;font-weight:400;font-style:normal;color:#23262d;letter-spacing:-0.856px;-webkit-text-stroke:0.22px #23262d;">7.01%</div>
<div class="abs tx" style="left:192.75px;top:569.31px;line-height:13px;font-size:10.2px;font-weight:400;font-style:normal;color:#c87a84;letter-spacing:-0.056px;">Top 10K</div>
<div class="abs tx" style="left:52.00px;top:612.20px;line-height:15px;font-size:12.2px;font-weight:400;font-style:normal;color:#23262d;letter-spacing:0.092px;-webkit-text-stroke:0.22px #23262d;">toddler water bottle</div>
<div class="abs tx" style="left:420.00px;top:612.22px;line-height:15px;font-size:12px;font-weight:400;font-style:normal;color:#23262d;letter-spacing:-0.339px;-webkit-text-stroke:0.22px #23262d;">Phrase</div>
<div class="abs tx" style="left:586.50px;top:612.22px;line-height:15px;font-size:12px;font-weight:400;font-style:normal;color:#2ec27e;letter-spacing:-0.031px;-webkit-text-stroke:0.2px #2ec27e;">Very High</div>
<div class="abs tx" style="left:711.50px;top:612.22px;line-height:15px;font-size:12px;font-weight:400;font-style:normal;color:#23262d;letter-spacing:-0.258px;-webkit-text-stroke:0.22px #23262d;">87.89K</div>
<div class="abs tx" style="left:878.00px;top:612.22px;line-height:15px;font-size:12px;font-weight:400;font-style:normal;color:#23262d;letter-spacing:-0.133px;-webkit-text-stroke:0.22px #23262d;">$1.35 - $1.95</div>
<div class="abs tx" style="left:1044.25px;top:612.22px;line-height:15px;font-size:12px;font-weight:400;font-style:normal;color:#23262d;letter-spacing:-0.484px;-webkit-text-stroke:0.22px #23262d;">11.86K</div>
<div class="abs tx" style="left:1210.75px;top:612.22px;line-height:15px;font-size:12px;font-weight:400;font-style:normal;color:#23262d;letter-spacing:-0.326px;-webkit-text-stroke:0.22px #23262d;">13.50%</div>
<div class="abs tx" style="left:189.25px;top:610.97px;line-height:13px;font-size:10.2px;font-weight:400;font-style:normal;color:#5b50cf;letter-spacing:0.057px;">Top 100K</div>
<div class="abs tx" style="left:52.00px;top:653.86px;line-height:15px;font-size:12.2px;font-weight:400;font-style:normal;color:#23262d;letter-spacing:0.000px;-webkit-text-stroke:0.22px #23262d;">large water bottle</div>
<div class="abs tx" style="left:420.00px;top:653.88px;line-height:15px;font-size:12px;font-weight:400;font-style:normal;color:#23262d;letter-spacing:-0.339px;-webkit-text-stroke:0.22px #23262d;">Phrase</div>
<div class="abs tx" style="left:586.50px;top:653.88px;line-height:15px;font-size:12px;font-weight:400;font-style:normal;color:#2ec27e;letter-spacing:-0.031px;-webkit-text-stroke:0.2px #2ec27e;">Very High</div>
<div class="abs tx" style="left:711.50px;top:653.88px;line-height:15px;font-size:12px;font-weight:400;font-style:normal;color:#23262d;letter-spacing:-0.258px;-webkit-text-stroke:0.22px #23262d;">95.07K</div>
<div class="abs tx" style="left:878.00px;top:653.88px;line-height:15px;font-size:12px;font-weight:400;font-style:normal;color:#23262d;letter-spacing:-0.133px;-webkit-text-stroke:0.22px #23262d;">$1.35 - $1.95</div>
<div class="abs tx" style="left:1044.25px;top:653.88px;line-height:15px;font-size:12px;font-weight:400;font-style:normal;color:#23262d;letter-spacing:-0.122px;-webkit-text-stroke:0.22px #23262d;">9.22K</div>
<div class="abs tx" style="left:1210.75px;top:653.88px;line-height:15px;font-size:12px;font-weight:400;font-style:normal;color:#23262d;letter-spacing:-0.256px;-webkit-text-stroke:0.22px #23262d;">9.70%</div>
<div class="abs tx" style="left:177.25px;top:652.63px;line-height:13px;font-size:10.2px;font-weight:400;font-style:normal;color:#5b50cf;letter-spacing:0.057px;">Top 100K</div>
</div>
</body>
</html>
